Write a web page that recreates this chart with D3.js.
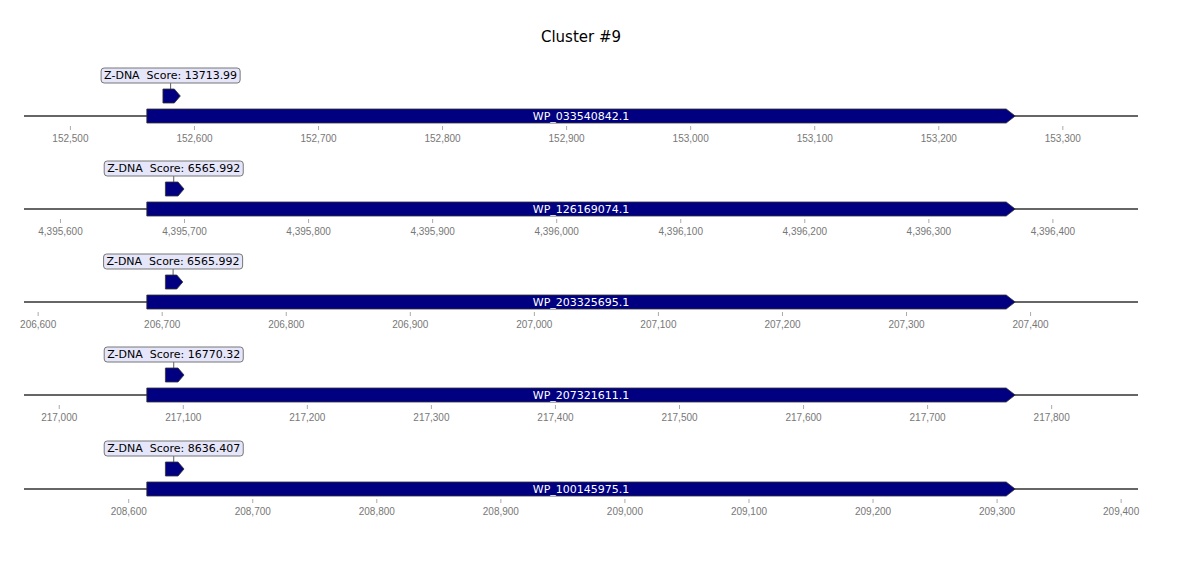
<!DOCTYPE html>
<html><head><meta charset="utf-8">
<script src="https://cdn.jsdelivr.net/npm/d3@7"></script>
<style>body{margin:0;background:#fff;font-family:"DejaVu Sans",sans-serif}</style>
</head><body><svg id="chart" width="1184" height="563"></svg>
<script>
// Cluster #9 tracks
const geneNames = ['WP_033540842.1', 'WP_126169074.1', 'WP_203325695.1', 'WP_207321611.1', 'WP_100145975.1'];
const viewStarts = [152463, 4395571, 206589, 216972, 208516];
const viewEnds = [153361, 4396469, 207487, 217870, 209414];
const geneStarts = [152562, 4395670, 206688, 217071, 208615];
const geneEnds = [153262, 4396370, 207388, 217771, 209315];
const zStarts = [152575, 4395685, 206703, 217086, 208630];
const zEnds = [152589, 4395700, 206717, 217101, 208645];
const zScores = ['13713.99', '6565.992', '6565.992', '16770.32', '8636.407'];

const svg = d3.select('#chart');
const left = 24, right = 1138;
const trackY = [116, 209, 302, 395, 489];

svg.append('text').attr('x', 581).attr('y', 42).attr('text-anchor', 'middle')
    .style('font-size', '15px').text('Cluster #9');

geneNames.forEach((name, i) => {
    const y = trackY[i];
    const x = d3.scaleLinear().domain([viewStarts[i], viewEnds[i]]).range([left, right]);
    const g = svg.append('g');

    // axis
    const axis = d3.axisBottom(x).ticks(8).tickSize(4).tickFormat(d3.format(','));
    const ag = g.append('g').attr('transform', `translate(0,${y + 10})`).call(axis);
    ag.select('.domain').remove();
    ag.selectAll('line').attr('stroke', '#aaa');
    ag.selectAll('text').attr('fill', '#777').style('font-size', '10px').attr('dy', '0.9em');

    // backbone
    g.append('line').attr('x1', left).attr('x2', right).attr('y1', y).attr('y2', y)
        .attr('stroke', '#333').attr('stroke-width', 1.5);

    // gene arrow
    const gs = x(geneStarts[i]), ge = x(geneEnds[i]), h = 7;
    g.append('path')
        .attr('d', `M${gs},${y - h}L${ge - 9},${y - h}L${ge},${y}L${ge - 9},${y + h}L${gs},${y + h}Z`)
        .attr('fill', '#000080').attr('stroke', '#333').attr('stroke-width', 0.8);
    g.append('text').attr('x', (gs + ge) / 2).attr('y', y + 4).attr('text-anchor', 'middle')
        .attr('fill', '#fff').style('font-size', '11px').text(name);

    // Z-DNA feature
    const zs = x(zStarts[i]), ze = x(zEnds[i]), zy = y - 20, zh = 7;
    g.append('path')
        .attr('d', `M${zs},${zy - zh}L${ze - 6},${zy - zh}L${ze},${zy}L${ze - 6},${zy + zh}L${zs},${zy + zh}Z`)
        .attr('fill', '#000080').attr('stroke', '#333').attr('stroke-width', 0.8);
    const cx = (zs + ze) / 2 - 1;
    g.append('line').attr('x1', cx).attr('x2', cx).attr('y1', zy - 20).attr('y2', zy - zh)
        .attr('stroke', '#333').attr('stroke-width', 0.8);
    const label = g.append('text').attr('x', cx).attr('y', y - 37).attr('text-anchor', 'middle')
        .style('font-size', '11px').style('white-space', 'pre').attr('fill', '#000')
        .text(`Z-DNA  Score: ${zScores[i]}`);
    const bb = label.node().getBBox();
    g.insert('rect', () => label.node())
        .attr('x', bb.x - 3).attr('y', bb.y - 1).attr('width', bb.width + 6).attr('height', bb.height + 2)
        .attr('rx', 3).attr('fill', '#e6e6fa').attr('stroke', '#777');
});
</script></body></html>
